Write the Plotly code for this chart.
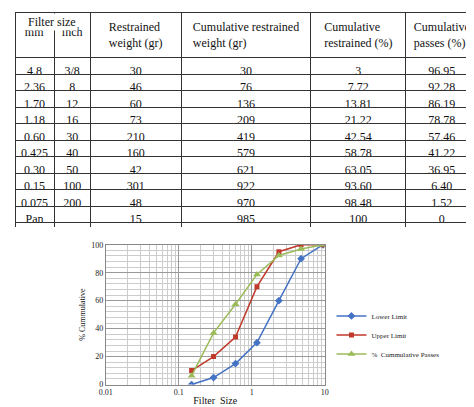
import plotly.graph_objects as go

mm = ["4.8","2.36","1.70","1.18","0.60","0.425","0.30","0.15","0.075","Pan","Total"]
inch = ["3/8","8","12","16","30","40","50","100","200","",""]
restrained = ["30","46","60","73","210","160","42","301","48","15","985"]
cum_w = ["30","76","136","209","419","579","621","922","970","985","-"]
cum_r = ["3","7.72","13.81","21.22","42.54","58.78","63.05","93.60","98.48","100",""]
cum_p = ["96.95","92.28","86.19","78.78","57.46","41.22","36.95","6.40","1.52","0",""]

sieve = [0.15, 0.3, 0.6, 1.18, 2.36, 4.75, 9.5]
lower = [0, 5, 15, 30, 60, 90, 100]
upper = [10, 20, 34, 70, 95, 100, 100]
passes = [6.4, 36.95, 57.46, 78.78, 92.28, 96.95, 100]

W, H = 474, 407
tfont = dict(family="Liberation Serif", size=12, color="#111")
fig = go.Figure()
fig.add_trace(go.Table(
    domain=dict(x=[0, 1], y=[1 - 220/H, 1]),
    columnwidth=[40, 37, 93, 133, 97, 74],
    header=dict(values=["<br>mm", "<br>inch", "Restrained<br>weight (gr)",
                        "Cumulative restrained<br>weight (gr)", "Cumulative<br>restrained (%)",
                        "Cumulative<br>passes (%)"],
                fill_color="white", line_color="#333", height=15, align="center",
                font=tfont),
    cells=dict(values=[mm, inch, restrained, cum_w, cum_r, cum_p],
               fill_color="white", line_color="#333", height=16.5, align="center",
               font=tfont),
))
fig.add_annotation(text="Filter size", x=38/W, y=1 - 1/H, xref="paper", yref="paper",
                   xanchor="center", yanchor="top", showarrow=False, bgcolor="white",
                   font=tfont)
fig.add_trace(go.Scatter(x=sieve, y=lower, name="Lower Limit", mode="lines+markers",
                         line=dict(color="#4472C4", width=1.5), marker=dict(symbol="diamond", size=6)))
fig.add_trace(go.Scatter(x=sieve, y=upper, name="Upper Limit", mode="lines+markers",
                         line=dict(color="#C0392B", width=1.5), marker=dict(symbol="square", size=5)))
fig.add_trace(go.Scatter(x=sieve, y=passes, name="%  Cummulative Passes", mode="lines+markers",
                         line=dict(color="#9BBB59", width=1.5), marker=dict(symbol="triangle-up", size=7)))

axfont = dict(family="Liberation Serif", size=8, color="#222")
fig.update_layout(
    width=W, height=H, margin=dict(l=0, r=0, t=0, b=0),
    paper_bgcolor="white", plot_bgcolor="white",
    xaxis=dict(type="log", range=[-2, 1], domain=[93/W, 317/W], dtick=1,
               showgrid=True, gridcolor="#999", gridwidth=1,
               minor=dict(showgrid=True, gridcolor="#ccc", dtick="D1"),
               showline=True, linecolor="#888", mirror=True, zeroline=False,
               tickfont=axfont, ticks="",
               title=dict(text="Filter  Size", font=dict(family="Liberation Serif", size=10, color="#111"), standoff=0)),
    yaxis=dict(range=[0, 100], domain=[(H-381)/H, (H-238)/H], dtick=20,
               showgrid=True, gridcolor="#999",
               minor=dict(showgrid=True, gridcolor="#ccc", dtick=4),
               showline=True, linecolor="#888", mirror=True, zeroline=False,
               tickfont=axfont, ticks="",
               title=dict(text="% Cummulative", font=dict(family="Liberation Serif", size=8, color="#111"), standoff=4)),
    legend=dict(x=324/W, y=(H-296)/H, xanchor="left", yanchor="top",
                font=dict(family="Liberation Serif", size=7, color="#222"),
                bgcolor="rgba(0,0,0,0)", tracegroupgap=2),
    showlegend=True,
)
fig.write_html("out.html")
